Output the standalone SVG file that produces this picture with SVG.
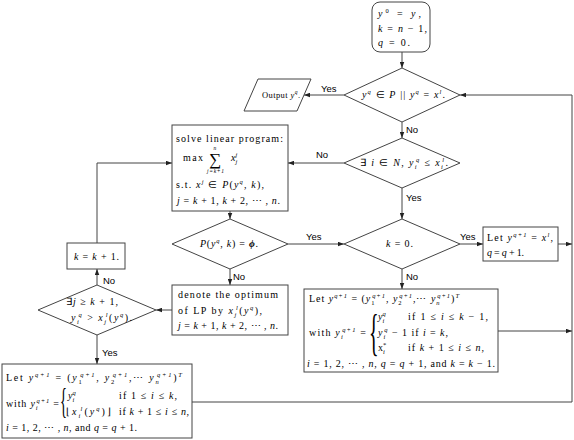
<svg xmlns="http://www.w3.org/2000/svg" width="574" height="440" viewBox="0 0 574 440">
<defs>
<style>
.bx{fill:#fff;stroke:#444;stroke-width:1}
.ln{fill:none;stroke:#444;stroke-width:1}
.t{font-family:"Liberation Serif",serif;font-size:10px;fill:#000}
.i{font-style:italic}
.sp{font-size:6.5px;baseline-shift:4px}
.sb{font-size:6.5px;baseline-shift:-3px}
.lb{font-family:"Liberation Sans",sans-serif;font-size:9.5px;fill:#000}
.br{font-family:"Liberation Serif",serif;fill:#000}
</style>
<marker id="a" viewBox="0 0 8 6" refX="8" refY="3" markerWidth="6" markerHeight="5" markerUnits="userSpaceOnUse" orient="auto"><path d="M0,0 L8,3 L0,6 z" fill="#222"/></marker>
</defs>
<rect width="574" height="440" fill="#fff"/>

<g id="connectors">
<path class="ln" d="M402,52 V68" marker-end="url(#a)"/>
<path class="ln" d="M344,95 H304" marker-end="url(#a)"/>
<path class="ln" d="M402,122 V138" marker-end="url(#a)"/>
<path class="ln" d="M344,163 H288" marker-end="url(#a)"/>
<path class="ln" d="M230,211 V219" marker-end="url(#a)"/>
<path class="ln" d="M288,244 H344" marker-end="url(#a)"/>
<path class="ln" d="M402,188 V219" marker-end="url(#a)"/>
<path class="ln" d="M460,244 H483" marker-end="url(#a)"/>
<path class="ln" d="M558,244 H572" marker-end="url(#a)"/>
<path class="ln" d="M402,269 V289" marker-end="url(#a)"/>
<path class="ln" d="M498,331 H572" marker-end="url(#a)"/>
<path class="ln" d="M230,269 V285" marker-end="url(#a)"/>
<path class="ln" d="M172,310 H156" marker-end="url(#a)"/>
<path class="ln" d="M97,285 V269" marker-end="url(#a)"/>
<path class="ln" d="M97,243 V163 H172" marker-end="url(#a)"/>
<path class="ln" d="M97,335 V364" marker-end="url(#a)"/>
<path class="ln" d="M192,402 H572 V95 H460" marker-end="url(#a)"/>
<text class="lb" x="321" y="92">Yes</text>
<text class="lb" x="406" y="133">No</text>
<text class="lb" x="316" y="158">No</text>
<text class="lb" x="406" y="201">Yes</text>
<text class="lb" x="306" y="240">Yes</text>
<text class="lb" x="460" y="240">Yes</text>
<text class="lb" x="406" y="280">No</text>
<text class="lb" x="233" y="280">No</text>
<text class="lb" x="103" y="284">No</text>
<text class="lb" x="102" y="356">Yes</text>
</g>

<g id="start">
<rect class="bx" x="372" y="2" width="58" height="50" rx="8"/>
<text class="t" x="378" y="17" textLength="43" lengthAdjust="spacing"><tspan class="i">y</tspan><tspan class="sp">0</tspan> = <tspan class="i">y</tspan>,</text>
<text class="t" x="378" y="32" textLength="49" lengthAdjust="spacing"><tspan class="i">k</tspan> = <tspan class="i">n</tspan> − 1,</text>
<text class="t" x="378" y="46" textLength="32" lengthAdjust="spacing"><tspan class="i">q</tspan> = 0.</text>
</g>

<g id="d1">
<polygon class="bx" points="402,68 460,95 402,122 344,95"/>
<text class="t" x="362" y="98" textLength="83" lengthAdjust="spacing"><tspan class="i">y</tspan><tspan class="sp i">q</tspan> ∈ <tspan class="i">P</tspan> || <tspan class="i">y</tspan><tspan class="sp i">q</tspan> = <tspan class="i">x</tspan><tspan class="sp i">l</tspan>.</text>
</g>

<g id="output">
<polygon class="bx" points="258,79 311,79 297,111 244,111"/>
<text x="262" y="98" textLength="38" lengthAdjust="spacing" style="font-family:'Liberation Serif',serif;font-size:8.5px">Output <tspan font-style="italic">y</tspan><tspan class="sp i" style="font-size:5.5px">q</tspan>.</text>
</g>

<g id="d2">
<polygon class="bx" points="402,138 460,163 402,188 344,163"/>
<text class="t" x="360" y="166" textLength="88" lengthAdjust="spacing">∃ <tspan class="i">i</tspan> ∈ <tspan class="i">N</tspan>, <tspan class="i">y</tspan><tspan class="sb i">i</tspan><tspan class="sp i" dx="-1.8">q</tspan> ≤ <tspan class="i">x</tspan><tspan class="sb i">i</tspan><tspan class="sp i" dx="-1.8">l</tspan>.</text>
</g>

<g id="lp">
<rect class="bx" x="172" y="125" width="116" height="86"/>
<text class="t" x="176" y="142" textLength="107" lengthAdjust="spacing">solve linear program:</text>
<text class="t" x="183" y="161" textLength="20" lengthAdjust="spacing">max</text>
<text class="br" x="209" y="165" style="font-size:17px">∑</text>
<text class="t i" x="213.5" y="150" style="font-size:5.5px">n</text>
<text class="t i" x="207" y="173" style="font-size:5.5px" textLength="17" lengthAdjust="spacing">j=k+1</text>
<text class="t" x="231" y="161"><tspan class="i">x</tspan><tspan class="sb i">j</tspan><tspan class="sp i" dx="-1.8">j</tspan></text>
<text class="t" x="176" y="188" textLength="88" lengthAdjust="spacing">s.t. <tspan class="i">x</tspan><tspan class="sp i">j</tspan> ∈ <tspan class="i">P</tspan>(<tspan class="i">y</tspan><tspan class="sp i">q</tspan>, <tspan class="i">k</tspan>),</text>
<text class="t" x="177" y="204" textLength="103" lengthAdjust="spacing"><tspan class="i">j</tspan> = <tspan class="i">k</tspan> + 1, <tspan class="i">k</tspan> + 2, ⋯ , <tspan class="i">n</tspan>.</text>
</g>

<g id="d3">
<polygon class="bx" points="230,219 288,244 230,269 172,244"/>
<text class="t" x="200" y="247" textLength="58" lengthAdjust="spacing"><tspan class="i">P</tspan>(<tspan class="i">y</tspan><tspan class="sp i">q</tspan>, <tspan class="i">k</tspan>) = <tspan font-weight="bold" class="i">ϕ</tspan>.</text>
</g>

<g id="d4">
<polygon class="bx" points="402,219 460,244 402,269 344,244"/>
<text class="t" x="386" y="247" textLength="27" lengthAdjust="spacing"><tspan class="i">k</tspan> = 0.</text>
</g>

<g id="setx">
<rect class="bx" x="483" y="227" width="75" height="34"/>
<text class="t" x="487" y="241" textLength="66" lengthAdjust="spacing">Let <tspan class="i">y</tspan><tspan class="sp i">q+1</tspan> = <tspan class="i">x</tspan><tspan class="sp i">l</tspan>,</text>
<text class="t" x="487" y="256" textLength="37" lengthAdjust="spacing"><tspan class="i">q</tspan> = <tspan class="i">q</tspan> + 1.</text>
</g>

<g id="update-right">
<rect class="bx" x="304" y="289" width="194" height="83"/>
<text class="t" x="309" y="302" textLength="150" lengthAdjust="spacing">Let <tspan class="i">y</tspan><tspan class="sp i">q+1</tspan> = (<tspan class="i">y</tspan><tspan class="sb">1</tspan><tspan class="sp i" dx="-3.3">q+1</tspan>, <tspan class="i">y</tspan><tspan class="sb">2</tspan><tspan class="sp i" dx="-3.3">q+1</tspan>,⋯ <tspan class="i">y</tspan><tspan class="sb i">n</tspan><tspan class="sp i" dx="-3.3">q+1</tspan>)<tspan class="sp i">T</tspan></text>
<text class="t" x="309" y="336" textLength="57" lengthAdjust="spacing">with <tspan class="i">y</tspan><tspan class="sb i">i</tspan><tspan class="sp i" dx="-1.8">q+1</tspan> =</text>
<text class="br" transform="translate(369,349) scale(0.4,1)" style="font-size:50px">{</text>
<text class="t" x="378" y="320"><tspan class="i">y</tspan><tspan class="sb i">i</tspan><tspan class="sp i" dx="-1.8">q</tspan></text>
<text class="t" x="408" y="320" textLength="80" lengthAdjust="spacing">if 1 ≤ <tspan class="i">i</tspan> ≤ <tspan class="i">k</tspan> − 1,</text>
<text class="t" x="378" y="336" textLength="70" lengthAdjust="spacing"><tspan class="i">y</tspan><tspan class="sb i">i</tspan><tspan class="sp i" dx="-1.8">q</tspan> − 1 if <tspan class="i">i</tspan> = <tspan class="i">k</tspan>,</text>
<text class="t" x="378" y="351">x<tspan class="sb i">i</tspan><tspan class="sp" dx="-1.8">*</tspan></text>
<text class="t" x="408" y="351" textLength="76" lengthAdjust="spacing">if <tspan class="i">k</tspan> + 1 ≤ <tspan class="i">i</tspan> ≤ <tspan class="i">n</tspan>,</text>
<text class="t" x="307" y="367" textLength="188" lengthAdjust="spacing"><tspan class="i">i</tspan> = 1, 2, ⋯ , <tspan class="i">n</tspan>, <tspan class="i">q</tspan> = <tspan class="i">q</tspan> + 1, and <tspan class="i">k</tspan> = <tspan class="i">k</tspan> − 1.</text>
</g>

<g id="denote">
<rect class="bx" x="172" y="285" width="116" height="50"/>
<text class="t" x="178" y="298" textLength="100" lengthAdjust="spacing">denote the optimum</text>
<text class="t" x="178" y="314" textLength="84" lengthAdjust="spacing">of LP by <tspan class="i">x</tspan><tspan class="sb i">j</tspan><tspan class="sp i" dx="-1.8">l</tspan>(<tspan class="i">y</tspan><tspan class="sp i">q</tspan>),</text>
<text class="t" x="178" y="329" textLength="100" lengthAdjust="spacing"><tspan class="i">j</tspan> = <tspan class="i">k</tspan> + 1, <tspan class="i">k</tspan> + 2, ⋯ , <tspan class="i">n</tspan>.</text>
</g>

<g id="incr">
<rect class="bx" x="67" y="243" width="58" height="26"/>
<text class="t" x="74" y="260" textLength="45" lengthAdjust="spacing"><tspan class="i">k</tspan> = <tspan class="i">k</tspan> + 1.</text>
</g>

<g id="d5">
<polygon class="bx" points="97,285 156,310 97,335 38,310"/>
<text class="t" x="66" y="305" textLength="52" lengthAdjust="spacing">∃<tspan class="i">j</tspan> ≥ <tspan class="i">k</tspan> + 1,</text>
<text class="t" x="71" y="321" textLength="61" lengthAdjust="spacing"><tspan class="i">y</tspan><tspan class="sb i">i</tspan><tspan class="sp i" dx="-1.8">q</tspan> &gt; <tspan class="i">x</tspan><tspan class="sb i">j</tspan><tspan class="sp i" dx="-1.8">l</tspan>(<tspan class="i">y</tspan><tspan class="sp i">q</tspan>).</text>
</g>

<g id="update-left">
<rect class="bx" x="2" y="364" width="190" height="74"/>
<text class="t" x="6" y="381" textLength="176" lengthAdjust="spacing">Let <tspan class="i">y</tspan><tspan class="sp i">q+1</tspan> = (<tspan class="i">y</tspan><tspan class="sb">1</tspan><tspan class="sp i" dx="-3.3">q+1</tspan>, <tspan class="i">y</tspan><tspan class="sb">2</tspan><tspan class="sp i" dx="-3.3">q+1</tspan>,⋯ <tspan class="i">y</tspan><tspan class="sb i">n</tspan><tspan class="sp i" dx="-3.3">q+1</tspan>)<tspan class="sp i">T</tspan></text>
<text class="t" x="6" y="407" textLength="53" lengthAdjust="spacing">with <tspan class="i">y</tspan><tspan class="sb i">i</tspan><tspan class="sp i" dx="-1.8">q+1</tspan> =</text>
<text class="br" transform="translate(60,413) scale(0.4,1)" style="font-size:36px">{</text>
<text class="t" x="68" y="399"><tspan class="i">y</tspan><tspan class="sb i">i</tspan><tspan class="sp i" dx="-1.8">q</tspan></text>
<text class="t" x="119" y="399" textLength="58" lengthAdjust="spacing">if 1 ≤ <tspan class="i">i</tspan> ≤ <tspan class="i">k</tspan>,</text>
<text class="t" x="66" y="415" textLength="45" lengthAdjust="spacing">⌊<tspan class="i">x</tspan><tspan class="sb i">i</tspan><tspan class="sp i" dx="-1.8">l</tspan>(<tspan class="i">y</tspan><tspan class="sp i">q</tspan>)⌋</text>
<text class="t" x="119" y="415" textLength="70" lengthAdjust="spacing">if <tspan class="i">k</tspan> + 1 ≤ <tspan class="i">i</tspan> ≤ <tspan class="i">n</tspan>,</text>
<text class="t" x="6" y="431" textLength="131" lengthAdjust="spacing"><tspan class="i">i</tspan> = 1, 2, ⋯ , <tspan class="i">n</tspan>, and <tspan class="i">q</tspan> = <tspan class="i">q</tspan> + 1.</text>
</g>
</svg>
